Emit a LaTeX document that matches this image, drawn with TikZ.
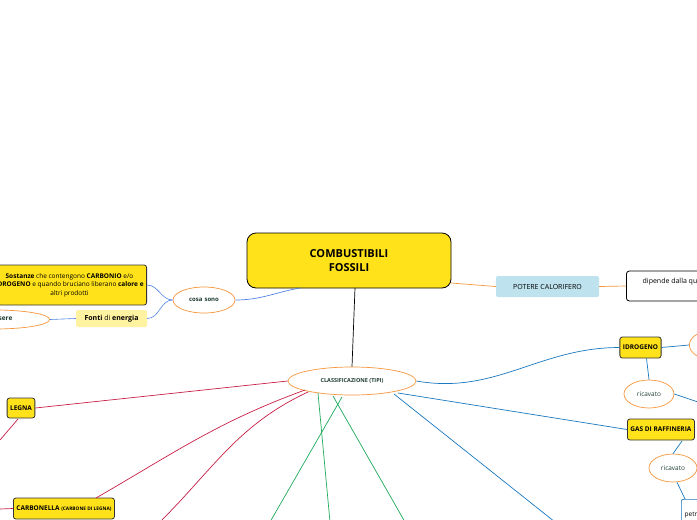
\documentclass[tikz,border=0pt]{standalone}
\usepackage{fontspec}
\setmainfont{Open Sans}
\usetikzlibrary{shapes.geometric}
\definecolor{yel}{RGB}{255,226,26}
\definecolor{lyel}{RGB}{255,242,160}
\definecolor{lblue}{RGB}{190,226,238}
\definecolor{org}{RGB}{245,150,60}
\definecolor{rd}{RGB}{200,30,70}
\definecolor{gr}{RGB}{30,170,90}
\definecolor{bl}{RGB}{25,120,190}
\definecolor{lbl}{RGB}{80,130,230}
\definecolor{dg}{RGB}{30,60,50}
\tikzset{
 ybox/.style={draw=black!80,fill=yel,rounded corners=2.5pt,line width=0.8pt,font=\fontsize{6.5}{8}\selectfont\bfseries,inner sep=3pt},
 oell/.style={ellipse,draw=org,line width=0.7pt,fill=white,font=\fontsize{6.5}{8}\selectfont,text=dg,inner sep=0pt},
 rl/.style={rd,line width=0.7pt},
 gl/.style={gr,line width=0.7pt},
 bll/.style={bl,line width=0.7pt},
}
\begin{document}
\begin{tikzpicture}[x=1pt,y=-1pt]
\useasboundingbox (0,0) rectangle (697,520);
\clip (0,0) rectangle (697,520);
% main
\node[draw=black,fill=yel,rounded corners=9pt,line width=0.8pt,minimum width=204pt,minimum height=55pt,align=center,font=\fontsize{11}{14}\selectfont\bfseries] (main) at (349,260.5) {COMBUSTIBILI\\FOSSILI};
\node[oell,minimum width=128pt,minimum height=28pt,font=\fontsize{5.5}{7}\selectfont\bfseries] (cls) at (352,381) {CLASSIFICAZIONE (TIPI)};
\draw[black,line width=0.7pt] (355,288) -- (cls.north);
% potere
\node[fill=lblue,rounded corners=2pt,minimum width=103pt,minimum height=21pt,font=\fontsize{7}{8}\selectfont] (pot) at (547.5,286.5) {POTERE CALORIFERO};
\draw[org,line width=0.7pt] (451,283) -- (pot.west);
\node[draw=black,fill=white,rounded corners=3pt,line width=0.8pt,minimum width=100pt,minimum height=30pt,anchor=west,font=\fontsize{7}{8}\selectfont,text depth=11pt,align=left] (dip) at (626,286) {\hspace*{6pt}dipende dalla quantità};
\draw[org,line width=0.7pt] (pot.east) -- (dip.west);
% cosa sono
\node[oell,minimum width=62pt,minimum height=26pt,font=\fontsize{6}{7}\selectfont\bfseries] (cosa) at (204,300) {cosa\,\,sono};
\draw[lbl,line width=0.7pt] (300,288) to[out=190,in=0] (cosa.east);
\node[ybox,anchor=east,align=center,minimum height=40pt,font=\fontsize{6.5}{8.5}\selectfont] (sost) at (147,285) {\textbf{Sostanze} che contengono \textbf{CARBONIO} e/o\\\textbf{IDROGENO} e quando bruciano liberano \textbf{calore e}\\altri prodotti};
\node[fill=lyel,rounded corners=2pt,minimum width=71pt,minimum height=17pt,font=\fontsize{7}{8}\selectfont] (fonti) at (111.5,318.5) {\textbf{Fonti} di \textbf{energia}};
\draw[lbl,line width=0.6pt] (cosa.west) to[out=180,in=0] (sost.east);
\draw[lbl,line width=0.6pt] (cosa.west) to[out=180,in=0] (fonti.east);
\node[oell,minimum width=110pt,minimum height=19pt,anchor=east,font=\fontsize{6.5}{8}\selectfont\bfseries] (poss) at (50,319.5) {possono essere\hspace*{14pt}};
\draw[lbl,line width=0.6pt] (poss.east) -- (fonti.west);
% red
\node[ybox,minimum height=20pt] (legna) at (21,408) {LEGNA};
\draw[rl] (cls.west) -- (legna.east);
\coordinate (l1) at (0,440);
\draw[rl] (18,419) -- (l1);
\node[ybox,anchor=west,minimum height=21pt] (carb) at (13,508.5) {CARBONELLA {\fontsize{4.8}{5}\selectfont(CARBONE DI LEGNA)}};
\draw[rl] (305,390) to[out=200,in=30] (96,498);
\coordinate (c1) at (0,509);
\draw[rl] (carb.west) -- (c1);
\coordinate (r3) at (160,522);
\draw[rl] (308,392) to[out=205,in=45] (r3);
% green
\coordinate (g1) at (270,522);\coordinate (g2) at (330,522);\coordinate (g3) at (405,522);
\draw[gl] (342,397) -- (g1);
\draw[gl] (318,393) -- (g2);
\draw[gl] (333,396) -- (g3);
% blue
\node[ybox,minimum height=21pt] (idro) at (640.5,347.5) {IDROGENO};
\draw[bll] (cls.east) to[out=-10,in=180] (idro.west);
\node[oell,minimum width=50pt,minimum height=30pt,anchor=west] (ie) at (689,345) {};
\draw[bll] (idro.east) -- (ie.west);
\node[oell,minimum width=50pt,minimum height=28pt] (ric1) at (649,394) {ricavato};
\draw[bll] (idro.south) ++(6,0) -- (ric1.north);
\coordinate (b1) at (698,402);
\draw[bll] (ric1.east) -- (b1);
\node[ybox,anchor=west,minimum height=21pt] (gas) at (627,429.5) {GAS DI RAFFINERIA};
\draw[bll] (398,393) -- (gas.west);
\coordinate (b2) at (555,522);
\draw[bll] (394,394) -- (b2);
\node[oell,minimum width=48pt,minimum height=28pt] (ric2) at (673,468) {ricavato};
\draw[bll] (682,441) -- (ric2.north);
\node[draw=bl,fill=white,rounded corners=2pt,line width=0.7pt,anchor=north west,minimum width=60pt,minimum height=30pt,font=\fontsize{6.5}{8}\selectfont,text height=5pt,align=left] (petr) at (681,499) {petrolio\hspace*{30pt}};
\draw[bll] (ric2.south) ++(4,0) -- (685,499);
\end{tikzpicture}
\end{document}
